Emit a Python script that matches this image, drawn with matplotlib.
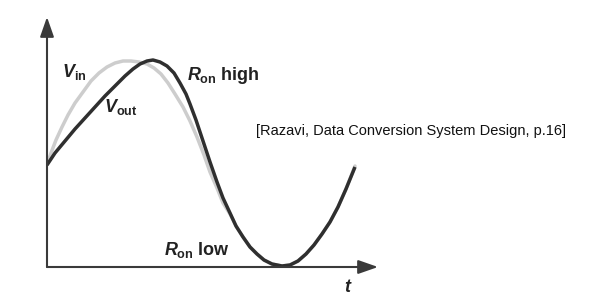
import matplotlib.pyplot as plt

plt.rcParams['font.family'] = ['Liberation Sans', 'DejaVu Sans']
plt.rcParams['mathtext.fontset'] = 'custom'
plt.rcParams['mathtext.it'] = 'Liberation Sans:italic:bold'
plt.rcParams['mathtext.rm'] = 'Liberation Sans:bold'
plt.rcParams['mathtext.bf'] = 'Liberation Sans:bold'

# Vin (input sine, light grey)
t_in = [0, 4, 9, 15, 21, 28, 36, 44, 52, 60, 68, 76, 84, 92, 100, 107, 114, 121,
        128, 136, 143, 150, 157, 163, 170, 176, 183, 189, 196, 203, 210, 217, 225,
        235, 243, 251, 259, 267, 275, 283, 291, 299, 308]
v_in = [102, 114, 127, 140, 152, 164, 175, 186, 194, 200, 204, 206, 206, 205, 203,
        199, 193, 184, 173, 160, 146, 130, 112, 95, 79, 64, 53, 41, 30, 20, 13, 7,
        3, 1, 2, 6, 13, 22, 33, 45, 60, 78, 101]

# Vout (tracked output, dark)
t_out = [0, 8, 18, 28, 38, 48, 58, 68, 78, 86, 93, 100, 106, 113, 120, 127, 133,
         139, 143, 149, 156, 163, 170, 176, 183, 189, 196, 203, 210, 217, 225, 235,
         243, 251, 259, 267, 275, 283, 291, 299, 308]
v_out = [102, 114, 126, 138, 149, 160, 171, 181, 191, 198, 203, 206, 207, 205, 201,
         194, 184, 173, 163, 147, 126, 105, 85, 69, 54, 41, 30, 20, 13, 7, 3, 1, 2,
         6, 13, 22, 33, 45, 60, 78, 100]

fig = plt.figure(figsize=(6, 3.08), dpi=100)
ax = fig.add_axes([47 / 600, (308 - 267) / 308, (378 - 47) / 600, (267 - 17) / 308])
ax.set_xlim(0, 331)
ax.set_ylim(0, 250)
ax.axis('off')

ax.plot(t_in, v_in, color='#cdcdcd', lw=2.5, solid_capstyle='round',
        solid_joinstyle='round', zorder=2)
ax.plot(t_out, v_out, color='#2f2f2f', lw=2.5, solid_capstyle='butt',
        solid_joinstyle='round', zorder=3)

# axes with arrows
arr = dict(arrowstyle='-|>,head_length=1.0,head_width=0.35', color='#3a3a3a',
           lw=1.5, mutation_scale=12, shrinkA=0, shrinkB=0)
ax.annotate('', xy=(331, 0), xytext=(0, 0), arrowprops=arr, annotation_clip=False)
ax.annotate('', xy=(0, 250), xytext=(0, 0), arrowprops=arr, annotation_clip=False)

lab = dict(fontsize=13, color='#222222', fontweight='bold')
ax.text(15, 195, r'$V_{\mathrm{in}}$', ha='left', va='center', **lab)
ax.text(57, 160, r'$V_{\mathrm{out}}$', ha='left', va='center', **lab)
ax.text(140, 192, r'$R_{\mathrm{on}}$ high', ha='left', va='center', **lab)
ax.text(117, 17, r'$R_{\mathrm{on}}$ low', ha='left', va='center', **lab)
ax.text(301, -20, r'$t$', ha='center', va='center', **lab)

fig.text(256 / 600, 1 - 131 / 308, '[Razavi, Data Conversion System Design, p.16]',
         fontsize=10.5, color='#111111', ha='left', va='center')

fig.savefig('out.png', dpi=100)
